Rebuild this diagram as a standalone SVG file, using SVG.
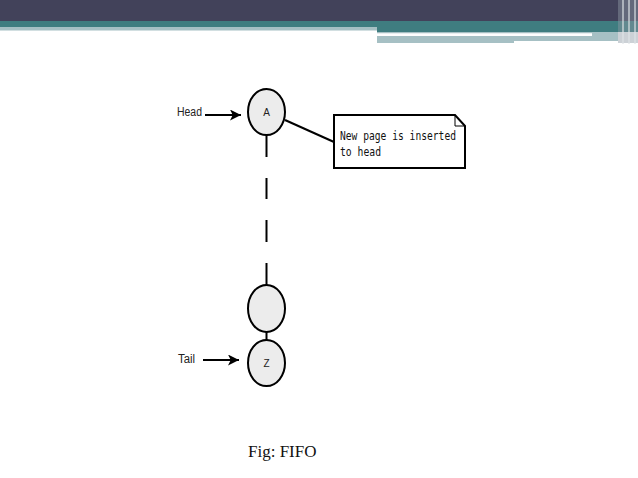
<svg xmlns="http://www.w3.org/2000/svg" width="638" height="478" viewBox="0 0 638 478">
<defs>
<style>
.node ellipse{fill:#ececec;stroke:#000;stroke-width:2}
.lbl{font-family:"Liberation Sans","DejaVu Sans",sans-serif;font-size:10px;fill:#222}
.ptr{font-family:"Liberation Sans","DejaVu Sans",sans-serif;font-size:12px;fill:#222}
.edge{stroke:#000;stroke-width:2;fill:none}
.note{font-family:"DejaVu Sans Mono","Liberation Mono",monospace;font-size:12px;fill:#111}
</style>
<marker id="ah" viewBox="0 0 10 10" refX="10" refY="5" markerWidth="5.5" markerHeight="5.5" orient="auto" markerUnits="strokeWidth">
<path d="M0,0 L10,5 L0,10 L2.5,5 Z" fill="#000"/>
</marker>
</defs>
<rect width="638" height="478" fill="#fff"/>
<g id="header">
<rect x="0" y="0" width="638" height="21" fill="#42425a"/>
<rect x="0" y="21" width="638" height="6" fill="#3f7d80"/>
<rect x="0" y="27" width="377" height="3.5" fill="#a6c0c4"/>
<rect x="377" y="27" width="261" height="5" fill="#3f7d80"/>
<rect x="377" y="32" width="241" height="1.5" fill="#a6c0c4"/>
<rect x="377" y="33.5" width="215" height="2" fill="#ffffff"/>
<rect x="592" y="32" width="26" height="9" fill="#a6c0c4"/>
<rect x="377" y="36" width="137" height="7" fill="#a6c0c4"/>
<rect x="514" y="36" width="78" height="5" fill="#a6c0c4"/>
<rect x="618" y="0" width="20" height="43" fill="#8d9aa3" opacity="0.45"/>
<rect x="622" y="0" width="2" height="44" fill="#dde3e6" opacity="0.6"/>
<rect x="628" y="0" width="2" height="44" fill="#dde3e6" opacity="0.6"/>
<rect x="634" y="0" width="2" height="44" fill="#dde3e6" opacity="0.6"/>
</g>
<g id="connectors">
<line class="edge" x1="205" y1="115" x2="241" y2="115" marker-end="url(#ah)"/>
<line class="edge" x1="203" y1="360" x2="239" y2="360" marker-end="url(#ah)"/>
<line class="edge" x1="285" y1="120" x2="334" y2="142"/>
<line class="edge" x1="266.5" y1="135" x2="266.5" y2="157"/>
<line class="edge" x1="266.5" y1="178" x2="266.5" y2="199"/>
<line class="edge" x1="266.5" y1="220" x2="266.5" y2="242"/>
<line class="edge" x1="266.5" y1="263" x2="266.5" y2="285"/>
<line class="edge" x1="266.5" y1="332" x2="266.5" y2="340"/>
</g>
<g id="head-label"><text class="ptr" x="177" y="116" textLength="25" lengthAdjust="spacingAndGlyphs">Head</text></g>
<g id="tail-label"><text class="ptr" x="178" y="363" textLength="17" lengthAdjust="spacingAndGlyphs">Tail</text></g>
<g id="nodeA" class="node">
<ellipse cx="266.5" cy="112" rx="18.5" ry="23"/>
<text class="lbl" x="266.5" y="116" text-anchor="middle">A</text>
</g>
<g id="nodeMid" class="node">
<ellipse cx="266.5" cy="308.5" rx="18.5" ry="23.5"/>
</g>
<g id="nodeZ" class="node">
<ellipse cx="266.5" cy="363" rx="18.5" ry="23"/>
<text class="lbl" x="266.5" y="367" text-anchor="middle">Z</text>
</g>
<g id="note">
<path d="M334,115 L455,115 L465,126 L465,168 L334,168 Z" fill="#fff" stroke="#000" stroke-width="2"/>
<path d="M455,115 L455,126 L465,126" fill="none" stroke="#000" stroke-width="1"/>
<text class="note" x="340" y="140" textLength="116" lengthAdjust="spacingAndGlyphs">New page is inserted</text>
<text class="note" x="340" y="156" textLength="41" lengthAdjust="spacingAndGlyphs">to head</text>
</g>
<g id="caption"><text x="248" y="457" font-family="'Liberation Serif','DejaVu Serif',serif" font-size="17" fill="#111">Fig: FIFO</text></g>
</svg>
